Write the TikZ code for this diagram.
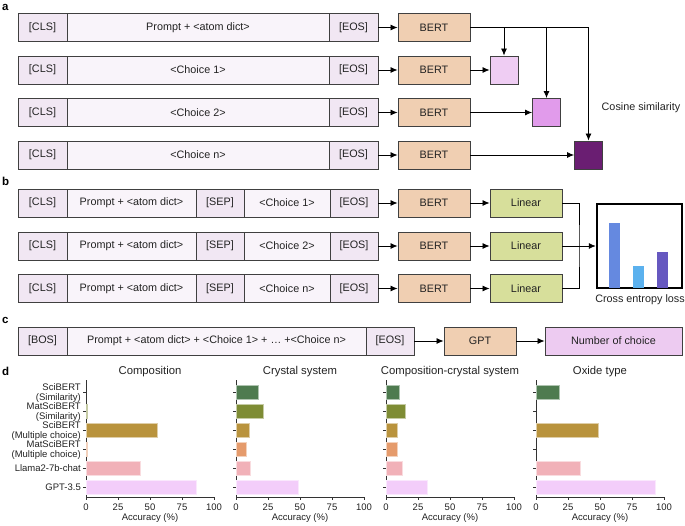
\documentclass[tikz,border=0pt]{standalone}
\usepackage{fontspec}
\setmainfont{Liberation Sans}
\usetikzlibrary{arrows.meta,calc}
\definecolor{tokd}{HTML}{F1E7F3}
\definecolor{tokl}{HTML}{F9F4FA}
\definecolor{edge}{HTML}{404040}
\definecolor{txt}{HTML}{222222}
\definecolor{bertc}{HTML}{F0CFB2}
\definecolor{linc}{HTML}{D7DF9B}
\definecolor{numc}{HTML}{EDCBF1}
\definecolor{sqa}{HTML}{EFCDF3}
\definecolor{sqb}{HTML}{E19BEB}
\definecolor{sqc}{HTML}{6A1E72}
\definecolor{cba}{HTML}{6589E0}
\definecolor{cbb}{HTML}{5BB1EE}
\definecolor{cbc}{HTML}{6658C0}
\definecolor{dgreen}{HTML}{4E7B4F}
\definecolor{olive}{HTML}{7E8C34}
\definecolor{gold}{HTML}{B9933D}
\definecolor{orng}{HTML}{E59B6C}
\definecolor{pnk}{HTML}{F1B1B8}
\definecolor{lav}{HTML}{F3CDFA}
\definecolor{axc}{HTML}{333333}
\newcommand\boxfont{\fontsize{10.8}{12}\selectfont}
\newcommand\myaxes[2]{%
  \draw[axisl] (#1,380) -- (#1,497) -- ({#1+128},497);
  \foreach \k in {0,...,5} \draw[axisl] (#1,{392+19*\k}) -- ({#1-3},{392+19*\k});
  \foreach \v in {0,25,50,75,100} {%
    \draw[axisl] ({#1+1.28*\v},497) -- ({#1+1.28*\v},500);
    \node[ticklbl] (tk#1-\v) at ({#1+1.28*\v},507) {\v};}
  \node[ttl] (ttl#1) at ({#1+64},372) {#2};
  \node[ticklbl] (acc#1) at ({#1+64},518) {Accuracy (\%)};
}
\newcommand\mybar[4]{\filldraw[fill=#4, draw=#4!45!white, line width=0.5pt] (#1,{392+19*(#2-1)-7}) rectangle ({#1+1.28*#3},{392+19*(#2-1)+7});}
\begin{document}
\begin{tikzpicture}[x=1pt,y=-1pt,
  cell/.style={draw=edge, line width=0.9pt, minimum height=28pt, inner sep=0pt, font=\boxfont, text=txt},
  tk/.style={cell, fill=tokd},
  mid/.style={cell, fill=tokl},
  bert/.style={cell, fill=bertc, minimum width=72pt},
  lin/.style={cell, fill=linc, minimum width=72pt},
  sq/.style={draw=edge, line width=0.9pt, minimum width=28pt, minimum height=28pt, inner sep=0pt},
  arr/.style={-{Latex[length=7pt,width=6pt]}, line width=0.8pt},
  lbl/.style={font=\bfseries\fontsize{11.5}{12}\selectfont, anchor=west, inner sep=0pt},
  axisl/.style={draw=axc, line width=1pt},
  ticklbl/.style={font=\fontsize{9.5}{10}\selectfont, text=txt, inner sep=0pt},
  ttl/.style={font=\fontsize{11.3}{12}\selectfont, text=txt, inner sep=0pt},
  ylab/.style={font=\fontsize{9.5}{10}\selectfont, text=txt, anchor=east, align=right, inner sep=0pt},
]
\useasboundingbox (0,0) rectangle (685,525);
% ---------------- a ----------------
\node[lbl] (la) at (2,7) {a};
\foreach \i/\y/\t in {1/27.5/{Prompt + <atom dict>},2/70/{<Choice 1>},3/112.5/{<Choice 2>},4/155/{<Choice n>}}{
  \node[tk, minimum width=49pt] (acls\i) at (42.5,\y) {[CLS]};
  \node[mid, minimum width=262pt] (amid\i) at (198,\y) {\t};
  \node[tk, minimum width=49pt] (aeos\i) at (353.5,\y) {[EOS]};
  \node[bert] (abert\i) at (434,\y) {BERT};
  \draw[arr] (aeos\i) -- (abert\i);
}
\node[sq, fill=sqa] (s1) at (504,70) {};
\node[sq, fill=sqb] (s2) at (546.5,112.5) {};
\node[sq, fill=sqc] (s3) at (588.5,155) {};
\draw[arr] (abert1.east) -| (s3.north);
\coordinate (br1) at (s1.north |- abert1.east);
\coordinate (br2) at (s2.north |- abert1.east);
\draw[arr] (br1) -- (s1.north);
\draw[arr] (br2) -- (s2.north);
\draw[arr] (abert2) -- (s1);
\draw[arr] (abert3) -- (s2);
\draw[arr] (abert4) -- (s3);
\node[font=\boxfont, text=txt] (cos) at (641,108) {Cosine similarity};
% ---------------- b ----------------
\node[lbl] (lb) at (2,181) {b};
\foreach \i/\y/\t in {1/203/{<Choice 1>},2/246/{<Choice 2>},3/288.5/{<Choice n>}}{
  \node[tk, minimum width=49pt] (bcls\i) at (42.5,\y) {[CLS]};
  \node[mid, minimum width=129pt] (bpr\i) at (131.5,\y) {Prompt + <atom dict>};
  \node[tk, minimum width=48pt] (bsep\i) at (220,\y) {[SEP]};
  \node[mid, minimum width=86pt] (bch\i) at (287,\y) {\t};
  \node[tk, minimum width=48pt] (beos\i) at (354,\y) {[EOS]};
  \node[bert] (bbert\i) at (434,\y) {BERT};
  \node[lin] (blin\i) at (526,\y) {Linear};
  \draw[arr] (beos\i) -- (bbert\i);
  \draw[arr] (bbert\i) -- (blin\i);
}
\node[draw, line width=2.5pt, minimum width=85pt, minimum height=84pt, inner sep=0pt] (ce) at (639.5,246) {};
\fill[cba] (609,223) rectangle (620,287.5);
\fill[cbb] (633,266) rectangle (644,287.5);
\fill[cbc] (657,252) rectangle (668,287.5);
\coordinate (jn) at (579,246);
\draw[line width=0.8pt] (blin1.east) -| (jn) |- (blin3.east);
\draw[arr] (blin2.east) -- (ce.west);
\node[font=\boxfont, text=txt] (cel) at (640,300) {Cross entropy loss};
% ---------------- c ----------------
\node[lbl] (lc) at (2,320) {c};
\node[tk, minimum width=49pt] (cbos) at (42.5,341) {[BOS]};
\node[mid, minimum width=299pt] (cpr) at (216.5,341) {Prompt + <atom dict> + <Choice 1> + … +<Choice n>};
\node[tk, minimum width=48pt] (ceos) at (390,341) {[EOS]};
\node[bert] (gpt) at (480,341) {GPT};
\node[cell, fill=numc, minimum width=137pt] (num) at (613.5,341) {Number of choice};
\draw[arr] (ceos) -- (gpt);
\draw[arr] (gpt) -- (num);
% ---------------- d ----------------
\node[lbl] (ld) at (2,371) {d};
\myaxes{86}{Composition}
\myaxes{236}{Crystal system}
\myaxes{386}{Composition-crystal system}
\myaxes{536}{Oxide type}
\node[ylab] (y1) at (81,393) {SciBERT\\(Similarity)};
\node[ylab] (y2) at (81,412) {MatSciBERT\\(Similarity)};
\node[ylab] (y3) at (81,431) {SciBERT\\(Multiple choice)};
\node[ylab] (y4) at (81,450) {MatSciBERT\\(Multiple choice)};
\node[ylab] (y5) at (81,468) {Llama2-7b-chat};
\node[ylab] (y6) at (81,487) {GPT-3.5};
% composition
\mybar{86}{2}{1}{olive}
\mybar{86}{3}{56}{gold}
\mybar{86}{4}{1}{orng}
\mybar{86}{5}{42}{pnk}
\mybar{86}{6}{86}{lav}
% crystal system
\mybar{236}{1}{17}{dgreen}
\mybar{236}{2}{21}{olive}
\mybar{236}{3}{10}{gold}
\mybar{236}{4}{8}{orng}
\mybar{236}{5}{11}{pnk}
\mybar{236}{6}{49}{lav}
% composition-crystal system
\mybar{386}{1}{10}{dgreen}
\mybar{386}{2}{15}{olive}
\mybar{386}{3}{9}{gold}
\mybar{386}{4}{9}{orng}
\mybar{386}{5}{13}{pnk}
\mybar{386}{6}{32}{lav}
% oxide type
\mybar{536}{1}{18.5}{dgreen}
\mybar{536}{3}{49}{gold}
\mybar{536}{5}{34.5}{pnk}
\mybar{536}{6}{93}{lav}
\end{tikzpicture}
\end{document}
